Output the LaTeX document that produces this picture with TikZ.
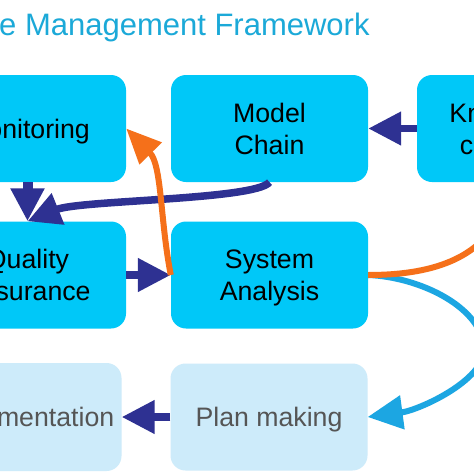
\documentclass[tikz,border=0pt]{standalone}
\usepackage{fontspec}
\setmainfont{Liberation Sans}
\usetikzlibrary{arrows.meta}
\definecolor{boxcyan}{RGB}{0,200,248}
\definecolor{boxpale}{RGB}{205,235,250}
\definecolor{navy}{RGB}{46,49,146}
\definecolor{flowblue}{RGB}{28,166,226}
\definecolor{floworange}{RGB}{245,112,26}
\definecolor{titleblue}{RGB}{27,169,216}
\definecolor{palegray}{RGB}{85,85,85}
\begin{document}
\begin{tikzpicture}[x=1pt,y=-1pt,
    box/.style={rectangle,rounded corners=15pt,fill=boxcyan,minimum width=197pt,minimum height=107pt,
      align=center,inner sep=0pt,text depth=0pt,font=\fontsize{26.7}{32}\selectfont},
    palebox/.style={box,fill=boxpale,text=palegray},
    navyarrow/.style={draw=navy,line width=7.5pt,-{Triangle[length=33pt,width=32pt]}},
    bluearrow/.style={draw=flowblue,line width=6pt,-{Triangle[length=35pt,width=33pt]}},
    orangearrow/.style={draw=floworange,line width=6pt,-{Triangle[length=35pt,width=30pt]}}]
    \useasboundingbox (0,0) rectangle (474,474);
    \clip (0,0) rectangle (474,474);
    \fill[white] (0,0) rectangle (474,474);

    \node[anchor=base west,inner sep=0pt,text=titleblue,font=\fontsize{31}{36}\selectfont] (title) at (-1,35) {e Management Framework};

    \node[box] (mon) at (27.5,128.5) {Monitoring};
    \node[box] (mc) at (269.5,128.5) {Model\\Chain};
    \node[box] (kn) at (515.5,128.5) {Knowledge\\collection};
    \node[box] (qa) at (27.5,275) {Quality\\Assurance};
    \node[box] (sa) at (269.5,275) {System\\Analysis};
    \node[palebox,minimum height=108pt] (impl) at (23,417) {Implementation};
    \node[palebox] (pm) at (269,417) {Plan making};

    \draw[navyarrow] (kn) -- (mc);
    \draw[navyarrow,line width=10pt] (mon) -- (qa);
    \draw[navyarrow] (mc.south) .. controls (255,200) and (80,200) .. (qa.north);
    \draw[navyarrow] (qa) -- (sa);
    \draw[navyarrow] (pm) -- (impl);
    \draw[bluearrow] (sa.east) .. controls (418,277) and (478,305) .. (484,345)
      .. controls (490,378) and (420,410) .. (pm.east);
    \draw[orangearrow] (sa.west) .. controls (160,220) and (162,165) .. (mon.east);
    \draw[orangearrow] (sa.east) .. controls (430,275) and (480,260) .. (kn.south);
\end{tikzpicture}
\end{document}
